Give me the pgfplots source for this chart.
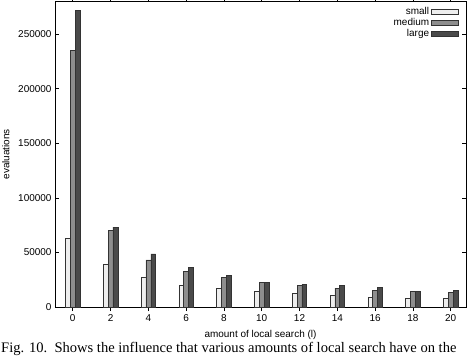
\documentclass[border=0pt]{standalone}
\usepackage{pgfplots}
\pgfplotsset{compat=1.18}
\usepackage{fontspec}
\setmainfont{Liberation Sans}
\newfontfamily\capfont{Liberation Serif}
\definecolor{csmall}{HTML}{EEEEEE}
\definecolor{cmedium}{HTML}{8E8E8E}
\definecolor{clarge}{HTML}{4A4A4A}
\begin{document}
\begin{tikzpicture}[x=1bp,y=1bp]
\useasboundingbox (0,0) rectangle (474,356);
\begin{scope}
\clip (0,0) rectangle (474,356);
\begin{axis}[
  at={(55bp,49bp)}, anchor=south west,
  scale only axis, width=411bp, height=305.5bp,
  xmin=-0.94, xmax=20.81, ymin=0, ymax=280000,
  xtick={0,2,...,20},
  ytick={0,50000,100000,150000,200000,250000},
  scaled y ticks=false,
  yticklabel style={/pgf/number format/fixed,/pgf/number format/1000 sep={}},
  /pgf/number format/assume math mode=true,
  tick align=inside, major tick length=4bp,
  axis line style={line width=0.8bp}, tick style={line width=0.6bp, black},
  ticklabel style={font=\fontsize{10}{12}\selectfont},
  xlabel={amount of local search (l)},
  ylabel={evaluations},
  label style={font=\fontsize{10}{12}\selectfont},
  xlabel style={yshift=-1.5bp},
  ylabel style={yshift=2bp},
  ybar=0pt, bar width=4.8bp,
  legend style={draw=none, fill=none, at={(0.99,0.995)}, anchor=north east,
    font=\fontsize{10}{11}\selectfont, row sep=-1.5bp},
  legend cell align=right,
  legend plot pos=right,
  legend image code/.code={\draw[#1, line width=0.6bp] (0bp,-2.5bp) rectangle (27bp,2.5bp);},
]
\addplot[draw=black!80, fill=csmall, line width=0.5bp] coordinates {
(0,63000) (2,39000) (4,26900) (6,19800) (8,16800) (10,14300) (12,12200) (14,10400) (16,8900) (18,7700) (20,7700)};
\addplot[draw=black!80, fill=cmedium, line width=0.5bp] coordinates {
(0,235500) (2,70400) (4,43300) (6,32600) (8,27200) (10,22900) (12,19800) (14,17400) (16,15500) (18,14100) (20,13400)};
\addplot[draw=black!80, fill=clarge, line width=0.5bp] coordinates {
(0,272000) (2,73100) (4,48800) (6,36300) (8,29300) (10,22900) (12,20700) (14,19600) (16,17700) (18,14600) (20,15500)};
\legend{small,medium,large}
\end{axis}
\node[anchor=base west, inner sep=0pt, font=\capfont\fontsize{14.6}{16}\selectfont] at (1,3.5)
  {Fig. 10.\ \ Shows the influence that various amounts of local search have on the};
\end{scope}
\end{tikzpicture}
\end{document}
